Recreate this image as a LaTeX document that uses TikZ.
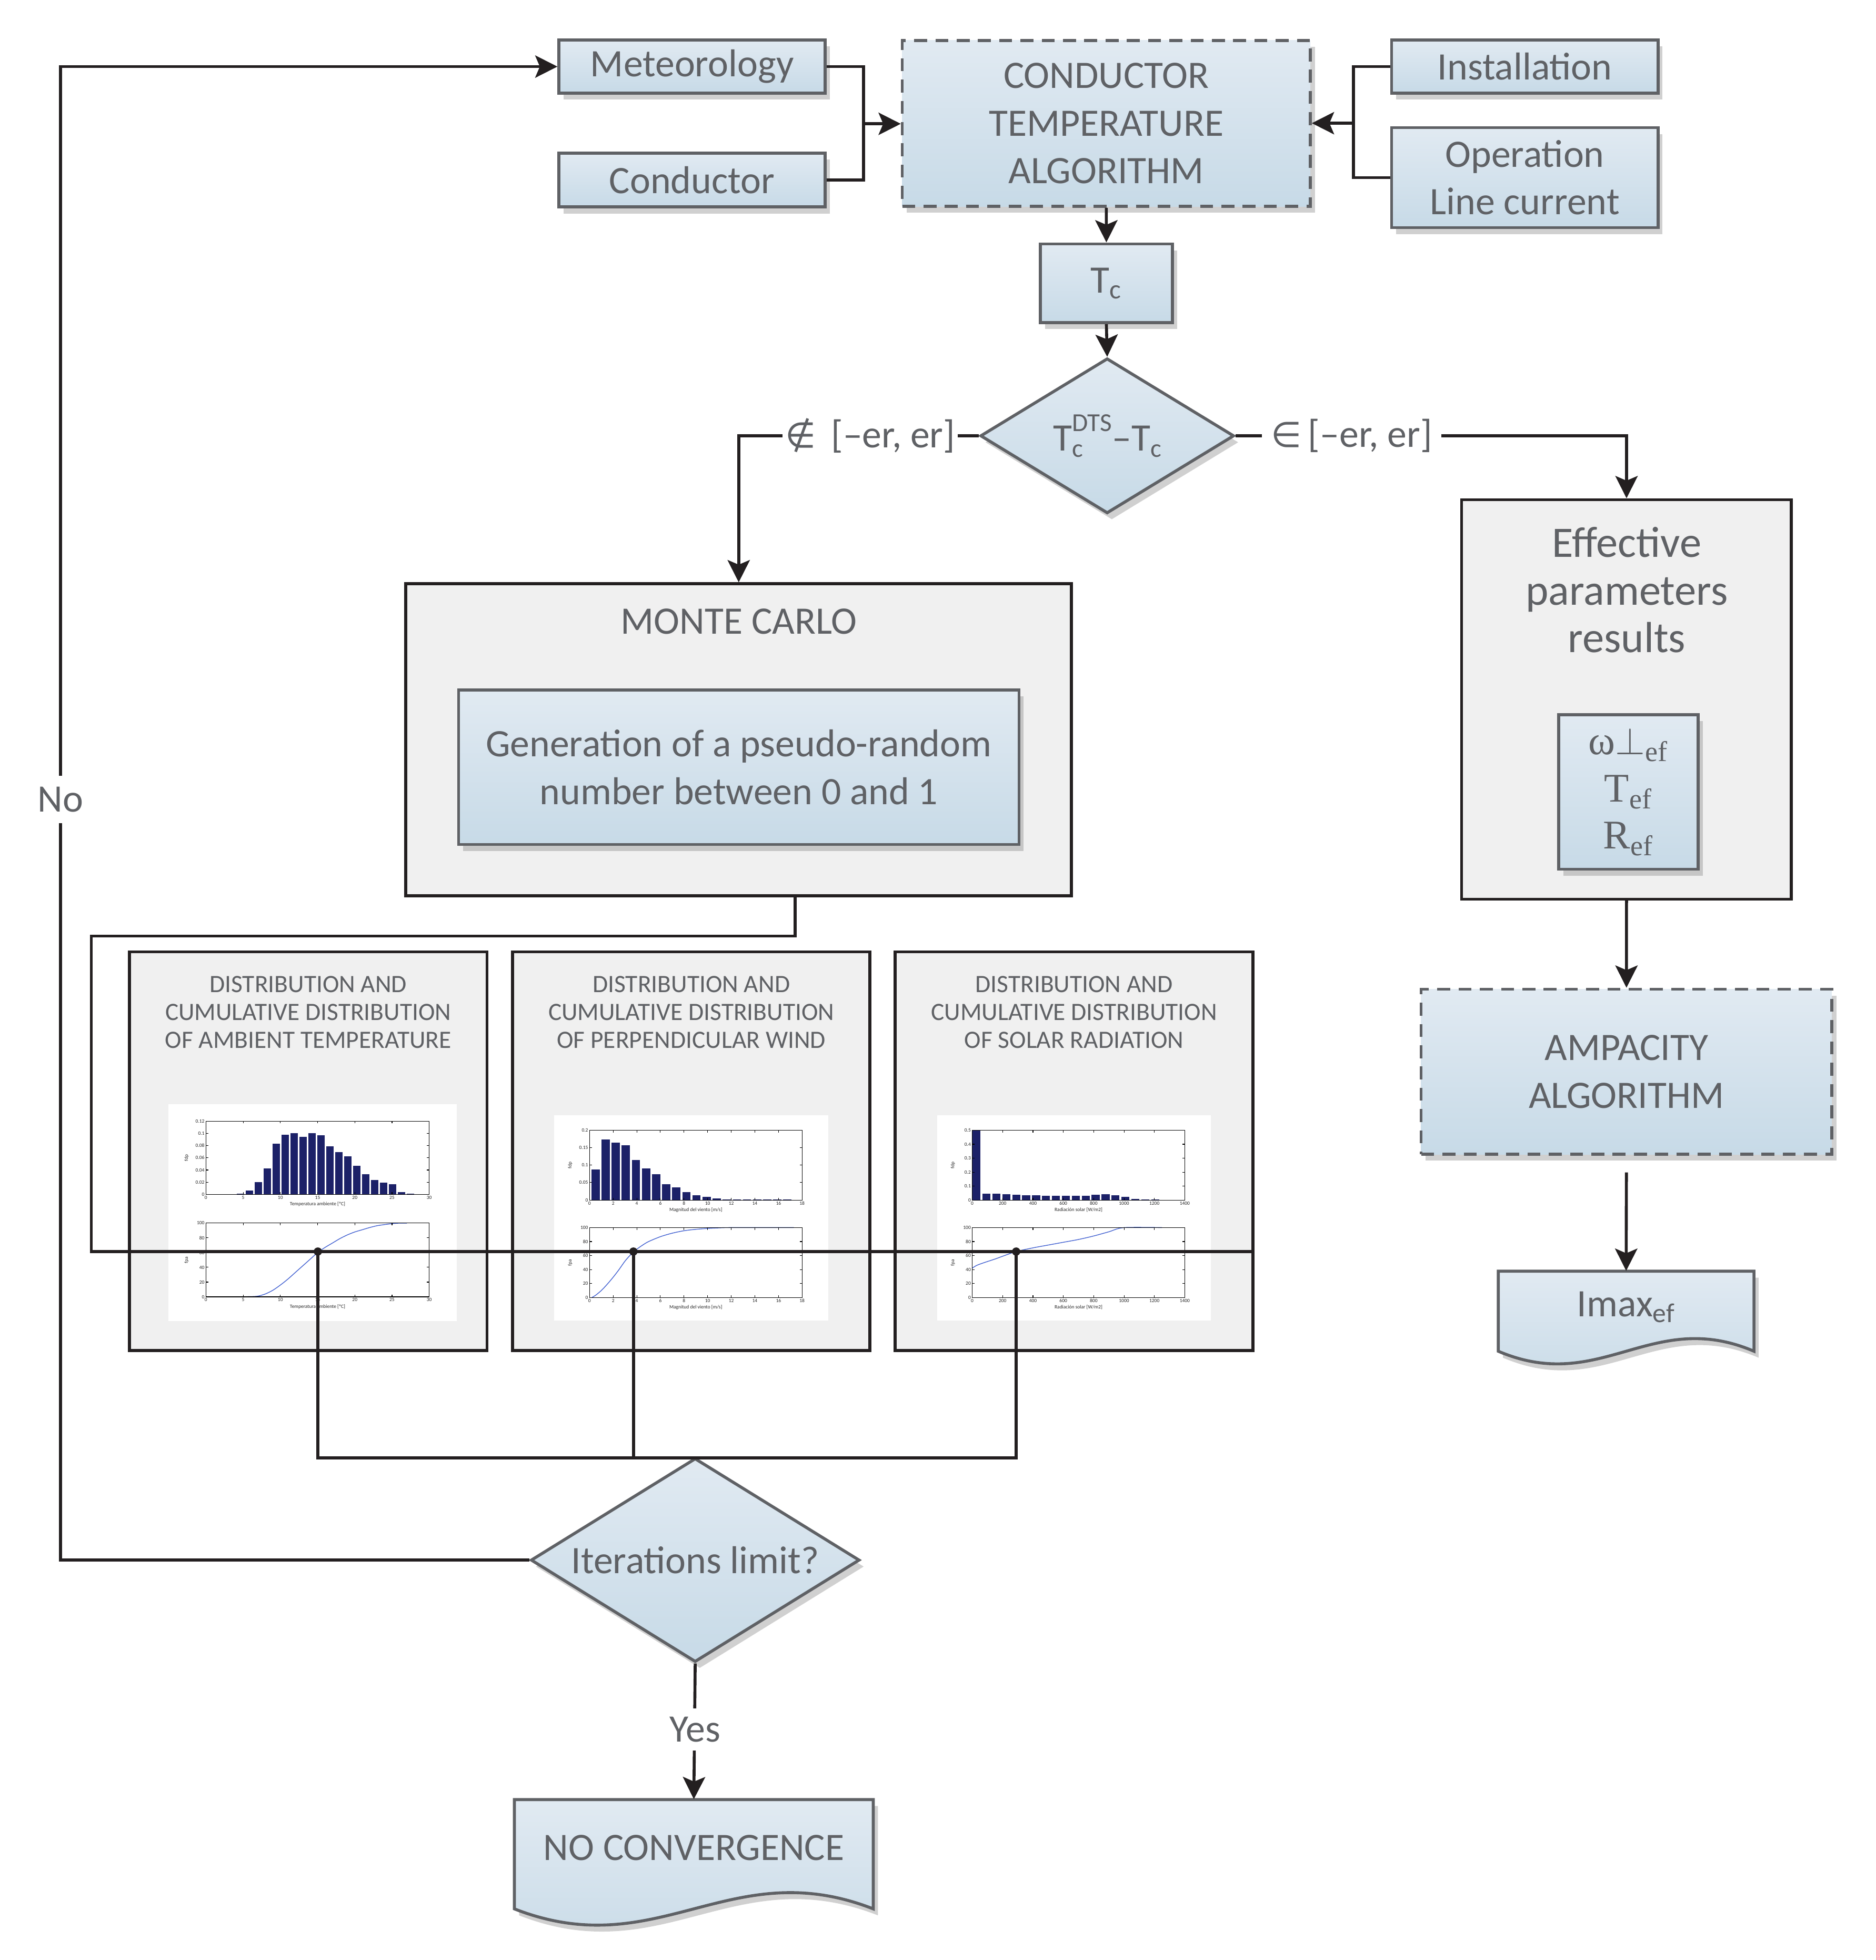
\documentclass[tikz,border=0pt]{standalone}
\usepackage{fontspec}
\setmainfont{Carlito}
\newfontfamily\serifx{Liberation Serif}
\newfontfamily\dejavu{DejaVu Sans}
\usetikzlibrary{shapes.geometric,arrows.meta,shadows,calc}
\definecolor{txt}{RGB}{95,97,101}
\definecolor{ln}{RGB}{35,31,32}
\definecolor{bxtop}{RGB}{225,234,242}
\definecolor{bxbot}{RGB}{199,218,231}
\definecolor{cont}{RGB}{240,240,240}
\definecolor{barc}{RGB}{28,33,104}
\definecolor{cdfc}{RGB}{70,100,210}
\newcommand\du{0.02376cm}
\newcommand\bigtxt{\fontsize{21pt}{25.8pt}\selectfont}
\newcommand\midtxt{\fontsize{23.5pt}{25.8pt}\selectfont}
\newcommand\smalltitle{\fontsize{13.5pt}{15.1pt}\selectfont}
\newcommand\ticktxt{\fontsize{2.7pt}{3.2pt}\selectfont}
\newcommand\scr{\fontsize{14pt}{14pt}\selectfont}
\newcommand\placebox[7][]{\node[#1, minimum width={(#5-#3)*0.02376cm}, minimum height={(#6-#4)*0.02376cm}] (#2) at ({(#3+#5)/2},{(#4+#6)/2}) {#7};}
\newcommand\setplot[6]{\pgfmathsetmacro\sx{(#3-#1)/#5*0.02376}\pgfmathsetmacro\sy{(#4-#2)/#6*0.02376}\def\pxo{#1}\def\pyo{#4}\def\pxm{#5}\def\pym{#6}}
\newcommand\frameaxes[5]{%
  \draw[axln] (0,0) rectangle (\pxm,\pym);
  \foreach \t [count=\k] in {#2}{%
    \draw[axln] (\t,0) -- ++(0,1.2pt);
    \draw[axln] (\t,\pym) -- ++(0,-1.2pt);
    \node[ticklbl,anchor=north] (#1x\k) at (\t,0) {\t};}
  \foreach \t/\l [count=\k] in {#3}{%
    \draw[axln] (0,\t) -- ++(1.2pt,0);
    \draw[axln] (\pxm,\t) -- ++(-1.2pt,0);
    \node[ticklbl,anchor=east] (#1y\k) at (0,\t) {\l};}
  \node[ticklbl,anchor=north] (#1xl) at ([yshift=-3.3pt]\pxm/2,0) {#4};
  \node[ticklbl,anchor=south,rotate=90] (#1yl) at ([xshift=-8.5pt]0,\pym/2) {#5};
}
\tikzset{
  basetxt/.style={text=txt, inner sep=0pt, align=center},
  bluebox/.style={basetxt, draw=txt, line width=1.6pt, top color=bxtop, bottom color=bxbot,
     drop shadow={shadow xshift=2.5pt, shadow yshift=-3.5pt, opacity=0.3, fill=black!60}},
  dashbox/.style={bluebox, dash pattern=on 7pt off 4.5pt},
  contbox/.style={draw=ln, line width=1.6pt, fill=cont},
  conn/.style={draw=ln, line width=1.6pt},
  arr/.style={conn, -{Stealth[length=12pt,width=12pt,inset=2.5pt]}},
  lbl/.style={basetxt, fill=white, font=\bigtxt},
  ticklbl/.style={text=black!85, inner sep=0.6pt, font=\ticktxt},
  axln/.style={draw=black, line width=0.3pt},
}
\begin{document}
\begin{tikzpicture}[x=0.02376cm, y=-0.02376cm]
\fill[white] (0,0) rectangle (1500,1567.3);
\useasboundingbox (0,0) rectangle (1500,1567.3);

% ---------- top row
\placebox[bluebox,font=\bigtxt]{met}{447}{32}{660}{74.5}{Meteorology}
\placebox[bluebox,font=\bigtxt]{cond}{447}{122.5}{660}{165.5}{Conductor}
\placebox[dashbox,font=\bigtxt]{cta}{721.6}{32.4}{1048}{165}{CONDUCTOR\\TEMPERATURE\\ALGORITHM}
\placebox[bluebox,font=\bigtxt]{inst}{1113}{32}{1326}{74.5}{Installation}
\placebox[bluebox,font=\bigtxt]{oper}{1113}{102}{1326}{182}{Operation\\Line current}
\placebox[bluebox,font=\bigtxt]{tc}{832}{195}{937.7}{258}{T\textsubscript{c}}
\node[bluebox, diamond, aspect=1.64, minimum width=203*0.02376cm, minimum height=124*0.02376cm, font=\bigtxt] (d1) at (885.5,348.5) {T\rlap{\raisebox{-0.16em}{\scr c}}\raisebox{0.5em}{\scr DTS}–T\raisebox{-0.16em}{\scr c}};

% ---------- Monte Carlo
\placebox[contbox]{mc}{324.6}{466.8}{857}{716.4}{}
\node[basetxt,font=\bigtxt,anchor=base] (mct) at (591,506.8) {MONTE CARLO};
\placebox[bluebox,font=\bigtxt]{gen}{366.7}{551.8}{815}{675.3}{Generation of a pseudo-random\\number between 0 and 1}

% ---------- Effective parameters
\placebox[contbox]{eff}{1169}{399.6}{1432.7}{719}{}
\node[basetxt,font=\midtxt] (efft) at (1301,471.7) {Effective\\parameters\\results};
\placebox[bluebox,font=\serifx\fontsize{22pt}{25.4pt}\selectfont]{par}{1246.6}{571.4}{1358}{695}{ω$\perp$\textsubscript{ef}\\T\textsubscript{ef}\\R\textsubscript{ef}}
\placebox[dashbox,font=\bigtxt]{amp}{1136.6}{791}{1465}{923}{AMPACITY\\ALGORITHM}
\path[bluebox] (1198.3,1016.5) -- (1402.8,1016.5) -- (1402.8,1080.5) .. controls (1320.8,1045.5) and (1280.3,1115.5) .. (1198.3,1080.5) -- cycle;
\placebox[basetxt,font=\bigtxt]{imax}{1198.3}{1016.5}{1402.8}{1074}{Imax\textsubscript{ef}}

% ---------- distribution boxes
\placebox[contbox]{dtemp}{103.5}{761.2}{389.5}{1080}{}
\placebox[contbox]{dwind}{410}{761.2}{695.7}{1080}{}
\placebox[contbox]{dsol}{716}{761.2}{1002}{1080}{}
\node[basetxt,font=\smalltitle] (ttemp) at (246.5,809.3) {DISTRIBUTION AND\\CUMULATIVE DISTRIBUTION\\OF AMBIENT TEMPERATURE};
\node[basetxt,font=\smalltitle] (twind) at (552.9,809.3) {DISTRIBUTION AND\\CUMULATIVE DISTRIBUTION\\OF PERPENDICULAR WIND};
\node[basetxt,font=\smalltitle] (tsol) at (859,809.3) {DISTRIBUTION AND\\CUMULATIVE DISTRIBUTION\\OF SOLAR RADIATION};
\placebox[fill=white]{itemp}{134.7}{882.9}{365.3}{1056.3}{}
\placebox[fill=white]{iwind}{443.3}{891.7}{662.5}{1055.9}{}
\placebox[fill=white]{isol}{749.4}{891.7}{968.5}{1055.9}{}

% temperature histogram
\setplot{164.7}{896.5}{343.3}{955.1}{30}{0.12}
\begin{scope}[shift={(\pxo,\pyo)}, x=\sx cm, y=\sy cm]
  \foreach \h [count=\i from 0] in {0.001,0.006,0.020,0.043,0.083,0.098,0.100,0.094,0.100,0.097,0.079,0.069,0.062,0.047,0.033,0.024,0.019,0.017,0.004,0.001}{%
    \pgfmathsetmacro\c{4.65+1.2*\i}
    \fill[barc] (\c-0.5,0) rectangle (\c+0.5,\h);}
  \frameaxes{ta}{0,5,...,30}{0/0,0.02/0.02,0.04/0.04,0.06/0.06,0.08/0.08,0.1/0.1,0.12/0.12}{Temperatura ambiente [ºC]}{fdp}
\end{scope}
\setplot{164.7}{978}{343.3}{1037}{30}{100}
\begin{scope}[shift={(\pxo,\pyo)}, x=\sx cm, y=\sy cm]
  \draw[cdfc, line width=0.4pt] plot[smooth] coordinates {(4,0) (6,0.3) (7,1) (8,4) (9,9) (10,16) (11,24) (12,33) (13,42) (14,51) (15,60) (16,67) (17,73) (18,79) (19,84) (20,88) (21,91) (22,94) (23,96.5) (24,98) (25,99.3) (26,100) (27,100)};
  \frameaxes{tb}{0,5,...,30}{0/0,20/20,40/40,60/60,80/80,100/100}{Temperatura ambiente [ºC]}{fpa}
\end{scope}

% wind
\setplot{471.5}{903.8}{641.5}{959.6}{18}{0.2}
\begin{scope}[shift={(\pxo,\pyo)}, x=\sx cm, y=\sy cm]
  \foreach \h [count=\i from 0] in {0.087,0.174,0.164,0.157,0.115,0.091,0.074,0.045,0.036,0.023,0.014,0.009,0.005,0.002,0.001,0.001,0.001,0.001,0.001,0.001}{%
    \pgfmathsetmacro\c{0.51+0.855*\i}
    \fill[barc] (\c-0.35,0) rectangle (\c+0.35,\h);}
  \frameaxes{wa}{0,2,...,18}{0/0,0.05/0.05,0.1/0.1,0.15/0.15,0.2/0.2}{Magnitud del viento [m/s]}{fdp}
\end{scope}
\setplot{471.5}{981.6}{641.5}{1037.5}{18}{100}
\begin{scope}[shift={(\pxo,\pyo)}, x=\sx cm, y=\sy cm]
  \draw[cdfc, line width=0.4pt] plot[smooth] coordinates {(0.2,0) (0.5,3) (1,10) (1.5,19) (2,29) (2.5,40) (3,52) (3.5,61.5) (4,69) (4.5,75) (5,80) (6,87) (7,92) (8,95.5) (9,97.5) (10,98.8) (11,99.6) (12,100) (17.3,100)};
  \frameaxes{wb}{0,2,...,18}{0/0,20/20,40/40,60/60,80/80,100/100}{Magnitud del viento [m/s]}{fpa}
\end{scope}

% solar
\setplot{777.6}{903.8}{947.6}{959.6}{1400}{0.5}
\begin{scope}[shift={(\pxo,\pyo)}, x=\sx cm, y=\sy cm]
  \foreach \h [count=\i from 0] in {0.5,0.045,0.045,0.042,0.037,0.034,0.034,0.031,0.031,0.031,0.031,0.031,0.038,0.042,0.035,0.024,0.008,0.004,0.003,0.001}{%
    \pgfmathsetmacro\c{28+65.4*\i}
    \fill[barc] (\c-26.5,0) rectangle (\c+26.5,\h);}
  \frameaxes{sa}{0,200,...,1400}{0/0,0.1/0.1,0.2/0.2,0.3/0.3,0.4/0.4,0.5/0.5}{Radiación solar [W/m2]}{fdp}
\end{scope}
\setplot{777.6}{981.6}{947.6}{1037.5}{1400}{100}
\begin{scope}[shift={(\pxo,\pyo)}, x=\sx cm, y=\sy cm]
  \draw[cdfc, line width=0.4pt] plot[smooth] coordinates {(0,42) (30,46) (80,50) (150,55) (200,59) (289,65.7) (400,71) (500,75) (600,79) (700,83) (800,88) (900,94) (1000,100) (1250,100)};
  \frameaxes{sb}{0,200,...,1400}{0/0,20/20,40/40,60/60,80/80,100/100}{Radiación solar [W/m2]}{fpa}
\end{scope}

% ---------- bottom
\node[bluebox, diamond, aspect=1.62, minimum width=263*0.02376cm, minimum height=163*0.02376cm, font=\bigtxt] (it) at (556,1247.5) {Iterations limit?};
\path[bluebox] (411.4,1439) -- (698.4,1439) -- (698.4,1526.4) .. controls (583.4,1481.4) and (526.4,1571.4) .. (411.4,1526.4) -- cycle;
\placebox[basetxt,font=\bigtxt]{nc}{411.4}{1439}{698.4}{1516}{NO CONVERGENCE}

% ---------- connectors
\coordinate (jl) at (690.6,99);
\coordinate (jr) at (1082.5,98.5);
\draw[conn] (met.east) -| (jl) |- (cond.east);
\draw[arr] (jl) -- (jl -| cta.west);
\draw[conn] (inst.west) -| (jr) |- (oper.west);
\draw[arr] (jr) -- (jr -| cta.east);
\draw[arr] (cta.south) -- (tc.north);
\draw[arr] (tc.south) -- (d1.north);
\draw[arr] (d1.west) -| (mc.north);
\node[lbl, inner xsep=1.5pt] (nin) at (696,348.5) {{\dejavu\fontsize{19pt}{20pt}\selectfont ∉}\, [–er, er]};
\draw[arr] (d1.east) -| (eff.north);
\node[lbl, inner xsep=5pt] (isin) at (1081,348.5) {{\dejavu\fontsize{19pt}{20pt}\selectfont ∈}\,[–er, er]};
\draw[arr] (eff.south) -- (amp.north);
\draw[arr, shorten <=9pt] (amp.south) -- (imax.north);

\coordinate (mcout) at (636,716.4);
\coordinate (lp1) at (636,748.5);
\coordinate (lp2) at (73,748.5);
\coordinate (lp3) at (73,1000.8);
\coordinate (lp4) at (1002,1000.8);
\draw[conn] (mcout) -- (lp1) -- (lp2) -- (lp3) -- (lp4);
\coordinate (dt1) at (254.2,1000.8);
\coordinate (dt2) at (506.6,1000.8);
\coordinate (dt3) at (812.7,1000.8);
\coordinate (h1) at (254.2,1165.8);
\coordinate (h3) at (812.7,1165.8);
\draw[conn] (dt1) -- (h1) -- (h3) -- (dt3);
\draw[conn] (dt2) -- (dt2 |- h1);
\foreach \d in {dt1,dt2,dt3} \fill[ln] (\d) circle (3.3);

\coordinate (nob) at (48.4,1247.5);
\coordinate (notp) at (48.4,53.25);
\draw[arr] (it.west) -- (nob) -- (notp) -- (met.west);
\node[lbl, inner ysep=6pt, inner xsep=1pt] (no) at (48.4,639.3) {No};
\draw[arr] (it.south) -- (nc.north);
\node[lbl, inner ysep=4.5pt, inner xsep=1pt] (yes) at (556,1383) {Yes};
\end{tikzpicture}
\end{document}
